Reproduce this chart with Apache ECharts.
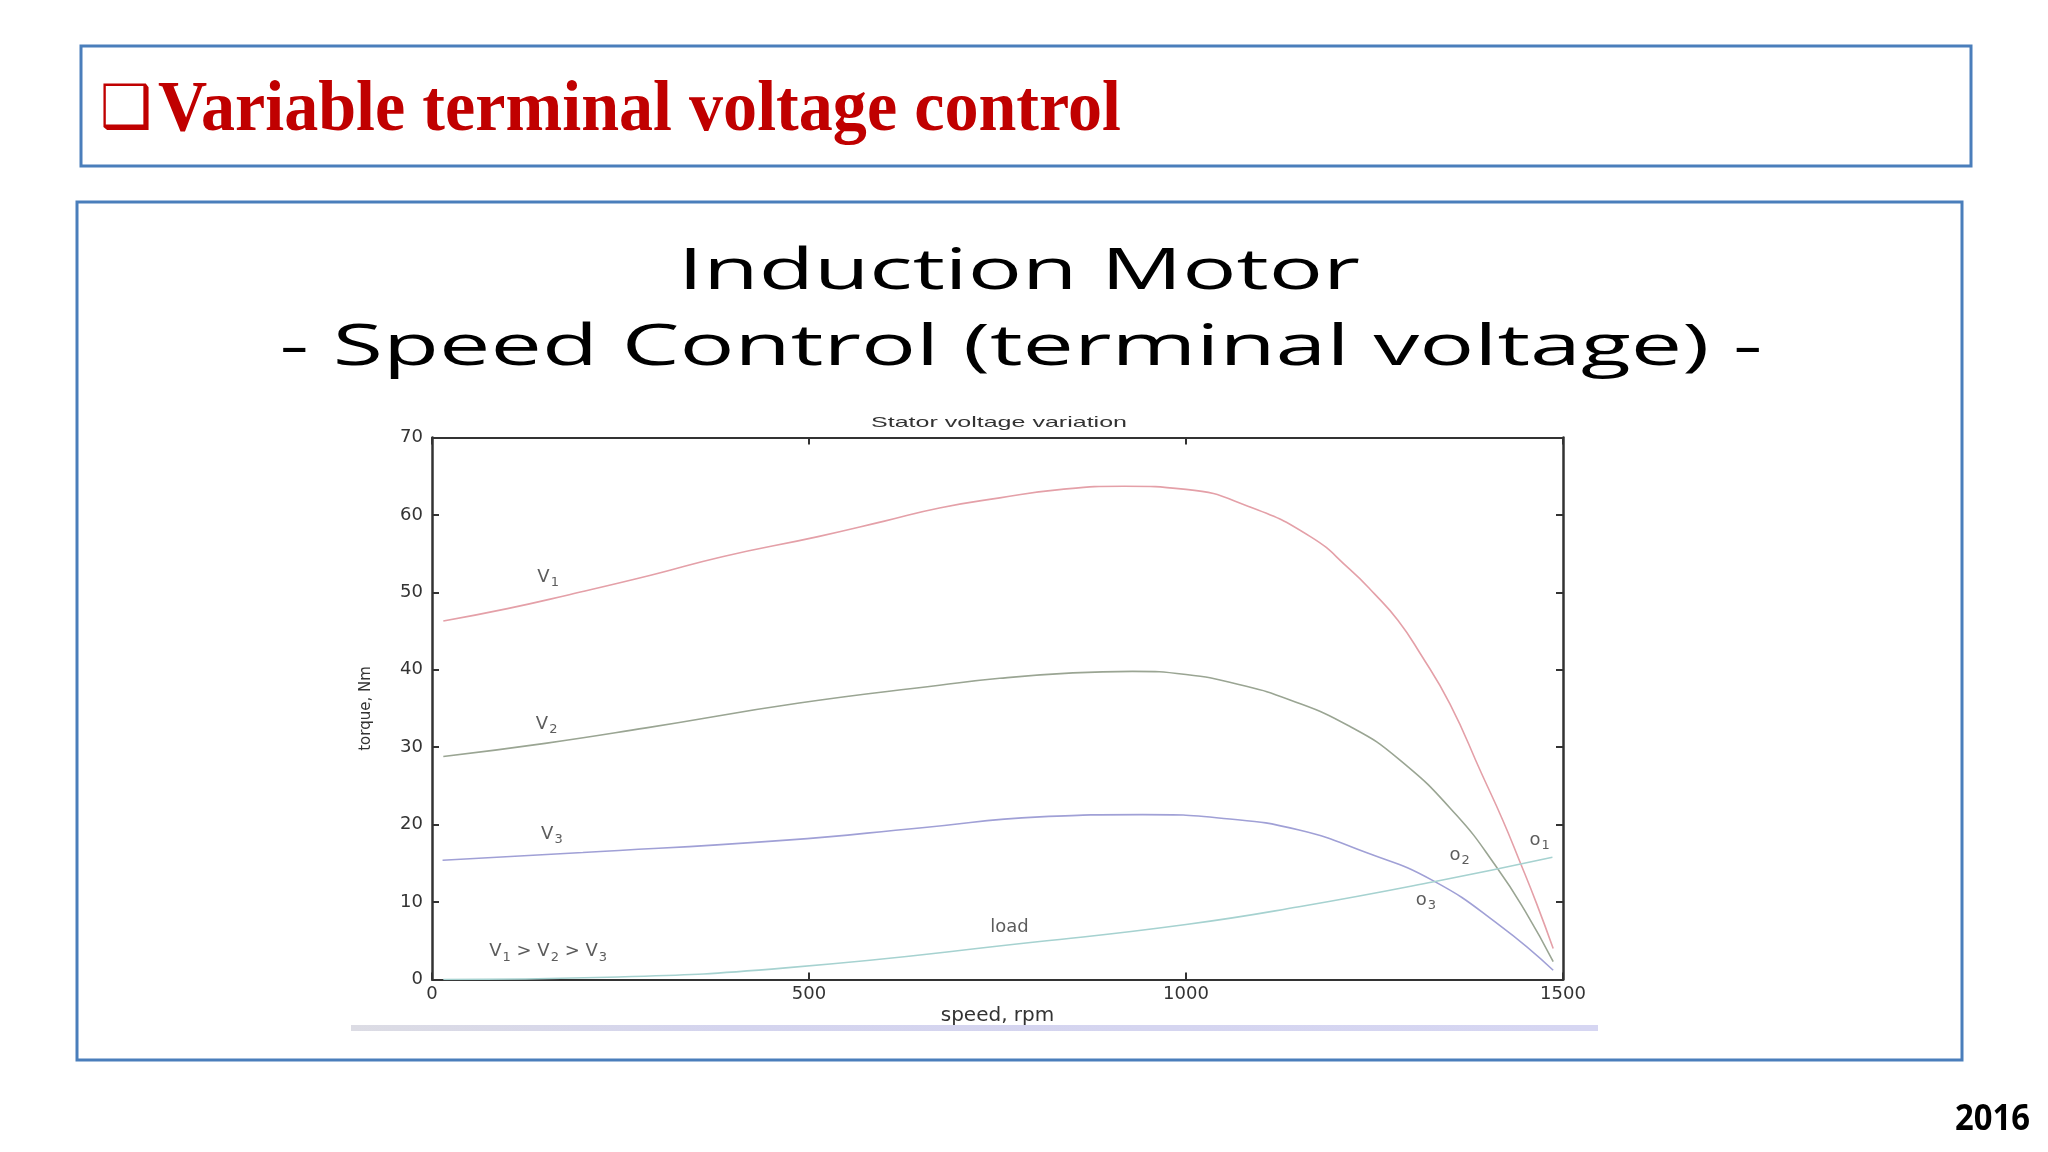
<!DOCTYPE html>
<html><head><meta charset="utf-8">
<script src="https://cdn.jsdelivr.net/npm/echarts@6/dist/echarts.min.js"></script>
<style>html,body{margin:0;padding:0;background:#fff}#c{width:2048px;height:1152px}</style>
</head><body><div id="c"></div>
<script>
// ---- texts ----
const bulletChar = '\u2751';
const slideTitle = 'Variable terminal voltage control';
const heading1 = 'Induction Motor';
const heading2 = '- Speed Control (terminal voltage) -';
const chartTitle = 'Stator voltage variation';
const xName = 'speed, rpm';
const yName = 'torque, Nm';
const yearText = '2016';

// ---- axis ----
const xMin = 0, xMax = 1500, xStep = 500;
const yMin = 0, yMax = 70, yStep = 10;

// ---- series (speed rpm, torque Nm) ----
const v1Speed  = [15, 100, 182, 290, 385, 512, 600, 673, 753, 835, 918, 1000, 1083, 1165, 1217, 1250, 1281, 1310, 1350, 1392, 1420, 1442, 1465, 1487];
const v1Torque = [46.3, 47.9, 49.7, 52.2, 54.6, 57.2, 59.2, 60.9, 62.2, 63.3, 63.7, 63.3, 61.1, 57.2, 53.0, 49.8, 46.4, 42.2, 35.6, 26.6, 20.6, 15.4, 9.8, 4.0];

const v2Speed  = [15, 150, 284, 487, 673, 753, 850, 929, 1000, 1070, 1138, 1217, 1283, 1358, 1412, 1450, 1487];
const v2Torque = [28.8, 30.5, 32.5, 35.7, 38.0, 38.9, 39.6, 39.8, 39.4, 38.1, 36.1, 32.7, 28.4, 21.3, 14.5, 8.8, 2.3];

const v3Speed  = [14, 200, 470, 650, 806, 942, 1050, 1150, 1239, 1327, 1416, 1487];
const v3Torque = [15.4, 16.4, 18.0, 19.6, 21.0, 21.3, 20.8, 19.3, 16.4, 12.8, 7.0, 1.2];

const loadSpeed  = [15, 233, 469, 806, 1000, 1150, 1327, 1486];
const loadTorque = [0.0, 0.3, 1.5, 4.9, 7.1, 9.4, 12.6, 15.8];

// ---- in-plot annotations ("_n" = subscript n) ----
const annoText   = ['V_1', 'V_2', 'V_3', 'load', 'V_1 > V_2 > V_3', 'o_1', 'o_2', 'o_3'];
const annoSpeed  = [154, 152, 159, 766, 154, 1469, 1363, 1318];
const annoTorque = [52.0, 33.0, 18.8, 6.7, 3.6, 18.0, 16.0, 10.2];

// ---- helpers ----
const zip = (xs, ys) => xs.map((x, i) => [x, ys[i]]);
const mctx = document.createElement('canvas').getContext('2d');
function fit(text, font, target) { mctx.font = font; return target / mctx.measureText(text).width; }

const F_TITLE = 'bold 71px "Liberation Serif"';
const F_BUL = '60px "DejaVu Sans"';
const F_H = '500 56px "Open Sans"';
const F_CT = '15px "Liberation Sans"';
const F_YEAR = 'bold 35px "Open Sans"';

const chart = echarts.init(document.getElementById('c'));

const axisCommon = {
  type: 'value',
  axisLine: { show: true, onZero: false, lineStyle: { color: '#333', width: 2 } },
  axisTick: { show: true, inside: true, length: 7, lineStyle: { color: '#333', width: 2 } },
  splitLine: { show: false }
};
const labelStyle = { color: '#333', fontFamily: 'DejaVu Sans', fontSize: 18, formatter: v => String(v) };

function txt(text, font, x, y, align, scaleX, fill) {
  return {
    type: 'text', x: x, y: y, scaleX: scaleX, scaleY: 1, z: 100,
    style: { text: text, font: font, fill: fill, align: align, textAlign: align, verticalAlign: 'middle', textVerticalAlign: 'middle' }
  };
}
const lineCommon = { type: 'line', smooth: 0.5, showSymbol: false, silent: true };

const option = {
  backgroundColor: '#ffffff',
  animation: false,
  grid: { left: 432, top: 437.5, width: 1131, height: 542, containLabel: false },
  xAxis: [
    Object.assign({}, axisCommon, {
      position: 'bottom', min: xMin, max: xMax, interval: xStep,
      axisLabel: Object.assign({ margin: 6 }, labelStyle),
      name: xName, nameLocation: 'middle', nameGap: 26,
      nameTextStyle: { color: '#333', fontFamily: 'DejaVu Sans', fontSize: 20 }
    }),
    Object.assign({}, axisCommon, {
      position: 'top', min: xMin, max: xMax, interval: xStep,
      axisLabel: { show: false }
    })
  ],
  yAxis: [
    Object.assign({}, axisCommon, {
      position: 'left', min: yMin, max: yMax, interval: yStep,
      axisLine: { show: true, onZero: false, lineStyle: { color: '#333', width: 2.5 } },
      axisLabel: Object.assign({ margin: 9 }, labelStyle),
      name: yName, nameLocation: 'middle', nameGap: 58, nameRotate: 90,
      nameTextStyle: { color: '#333', fontFamily: 'DejaVu Sans', fontSize: 15 }
    }),
    Object.assign({}, axisCommon, {
      position: 'right', min: yMin, max: yMax, interval: yStep,
      axisLine: { show: true, onZero: false, lineStyle: { color: '#333', width: 2.5 } },
      axisLabel: { show: false }
    })
  ],
  series: [
    Object.assign({ name: 'V1', data: zip(v1Speed, v1Torque), lineStyle: { color: '#e4a0a8', width: 1.6 } }, lineCommon),
    Object.assign({ name: 'V2', data: zip(v2Speed, v2Torque), lineStyle: { color: '#9aa593', width: 1.6 } }, lineCommon),
    Object.assign({ name: 'V3', data: zip(v3Speed, v3Torque), lineStyle: { color: '#a0a0d6', width: 1.6 } }, lineCommon),
    Object.assign({ name: 'load', data: zip(loadSpeed, loadTorque), lineStyle: { color: '#a6d2d0', width: 1.6 } }, lineCommon),
    { name: 'labels', type: 'scatter', silent: true, symbol: 'circle', symbolSize: 2,
      itemStyle: { color: 'rgba(255,255,255,0)' },
      data: annoText.map((t, i) => ({ name: t, value: [annoSpeed[i], annoTorque[i]] })),
      label: {
        show: true, position: 'inside', color: '#333', fontFamily: 'DejaVu Sans', fontSize: 18,
        formatter: p => p.name.replace(/_(\d)/g, '{s|$1}'),
        rich: { s: { fontFamily: 'DejaVu Sans', fontSize: 13, color: '#333', padding: [11, 0, 0, 1] } }
      },
      emphasis: { disabled: true }
    }
  ],
  graphic: [
    { type: 'rect', z: 90, shape: { x: 81, y: 46, width: 1890, height: 120 },
      style: { fill: 'none', stroke: '#4a7ebb', lineWidth: 3 } },
    { type: 'rect', z: 90, shape: { x: 77, y: 202, width: 1885, height: 858 },
      style: { fill: 'none', stroke: '#4a7ebb', lineWidth: 3 } },
    { type: 'rect', z: 90, shape: { x: 351, y: 1025, width: 1247, height: 6 },
      style: { fill: new echarts.graphic.LinearGradient(0, 0, 1, 0, [
        { offset: 0, color: '#dcdce4' }, { offset: 0.3, color: '#d4d4ee' }, { offset: 1, color: '#d6d6f2' }]) } },
    txt(bulletChar, F_BUL, 100, 111, 'left', fit(bulletChar, F_BUL, 52), '#c00000'),
    txt(slideTitle, F_TITLE, 158, 112, 'left', fit(slideTitle, F_TITLE, 963), '#c00000'),
    txt(heading1, F_H, 1019, 273, 'center', fit(heading1, F_H, 682), '#000'),
    txt(heading2, F_H, 1021, 349, 'center', fit(heading2, F_H, 1483), '#000'),
    txt(chartTitle, F_CT, 999, 423, 'center', fit(chartTitle, F_CT, 256), '#333'),
    txt(yearText, F_YEAR, 1955, 1120, 'left', fit(yearText, F_YEAR, 75), '#000')
  ]
};
chart.setOption(option);
</script></body></html>
